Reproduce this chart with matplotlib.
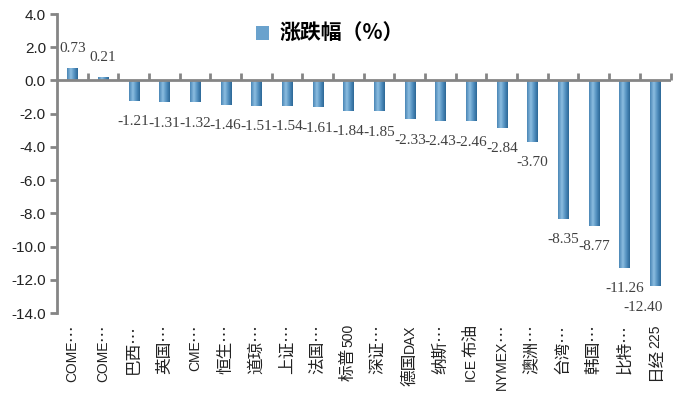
import numpy as np
import matplotlib.pyplot as plt
from matplotlib.colors import LinearSegmentedColormap
from matplotlib.patches import Patch

plt.rcParams["font.family"] = ["Liberation Sans", "Noto Sans CJK SC"]

categories = ["COME…", "COME…", "巴西…", "英国…", "CME…", "恒生…", "道琼…", "上证…",
              "法国…", "标普500", "深证…", "德国DAX", "纳斯…", "ICE布油", "NYMEX…",
              "澳洲…", "台湾…", "韩国…", "比特…", "日经225"]
values = [0.73, 0.21, -1.21, -1.31, -1.32, -1.46, -1.51, -1.54, -1.61, -1.84,
          -1.85, -2.33, -2.43, -2.46, -2.84, -3.70, -8.35, -8.77, -11.26, -12.40]
y_ticks = np.arange(-14, 4.1, 2)

axis_color = "#858585"
bar_cmap = LinearSegmentedColormap.from_list(
    "bar", [(0, "#4a86b6"), (0.35, "#8cbde0"), (0.7, "#4f8dbd"), (1, "#2c6796")])


def split_runs(s):
    # split a label into latin / CJK runs so they can get different sizes
    runs = []
    for ch in s:
        cjk = ord(ch) >= 0x2E80 or ch == "…"
        if runs and runs[-1][1] == cjk:
            runs[-1][0] += ch
        else:
            runs.append([ch, cjk])
    return runs


fig = plt.figure(figsize=(6.73, 4.04), dpi=100)
ax = fig.add_axes([0.0847, 0.2252, 0.9116, 0.7401])

x = np.arange(len(categories))
bars = ax.bar(x, values, width=0.33, color="#5a95c3", zorder=2)

grad = np.linspace(0, 1, 64).reshape(1, -1)
for b in bars:
    x0, y0 = b.get_x(), b.get_y()
    im = ax.imshow(grad, cmap=bar_cmap, aspect="auto", zorder=3,
                   extent=[x0, x0 + b.get_width(), y0, y0 + b.get_height()])
    im.set_clip_path(b)

for i, (xi, v) in enumerate(zip(x, values)):
    dx = -9 if i == len(values) - 1 else 0  # keep last label inside the figure
    ax.annotate(f"{v:.2f}", (xi, v), xytext=(dx, 14 if v > 0 else -15),
                textcoords="offset points", ha="center", va="center",
                fontsize=11, family="Liberation Serif", color="#404040")

ax.set_xlim(-0.5, len(categories) - 0.5)
ax.set_ylim(-14, 4)

# zero line with category separators
ax.axhline(0, color=axis_color, lw=2, zorder=4)
zero_pos = (0 - (-14)) / (4 - (-14))
sec = ax.secondary_xaxis(zero_pos)
sec.set_xticks(np.arange(0.5, len(categories), 1))
sec.set_xticklabels([])
sec.tick_params(axis="x", direction="out", length=5, width=2, color=axis_color)
sec.spines["bottom"].set_visible(False)
sec.spines["top"].set_visible(False)

# category labels, rotated; CJK parts drawn larger like the original
ax.set_xticks(x)
ax.set_xticklabels([])
ax.tick_params(axis="x", length=0)
for xi, cat in zip(x, categories):
    prev = None
    for text, cjk in reversed(split_runs(cat)):
        kw = dict(rotation=90, ha="center", va="top", color="#222222",
                  fontsize=12 if cjk else 10,
                  family=["Noto Sans CJK SC"] if cjk else ["Liberation Sans"])
        if prev is None:
            prev = ax.annotate(text, (xi, 0), xycoords=ax.get_xaxis_transform(),
                               xytext=(0, -8), textcoords="offset points", **kw)
        else:
            prev = ax.annotate(text, (0.5, 0), xycoords=prev, **kw)

ax.set_yticks(y_ticks)
ax.set_yticklabels([f"{t:.1f}" for t in y_ticks], fontsize=11, color="#222222")
ax.tick_params(axis="y", direction="out", length=5, width=2, color=axis_color, pad=3)

for s in ["top", "right", "bottom"]:
    ax.spines[s].set_visible(False)
ax.spines["left"].set_color(axis_color)
ax.spines["left"].set_linewidth(2)

handle = Patch(facecolor="#6aa2cd", edgecolor="none")
ax.legend([handle], ["涨跌幅（%）"], loc="center", bbox_to_anchor=(0.445, 0.935),
          frameon=False, handlelength=0.65, handleheight=0.65, handletextpad=0.5,
          prop={"family": ["Noto Sans CJK SC"], "weight": "bold", "size": 15})

fig.savefig("out.png", dpi=100)
